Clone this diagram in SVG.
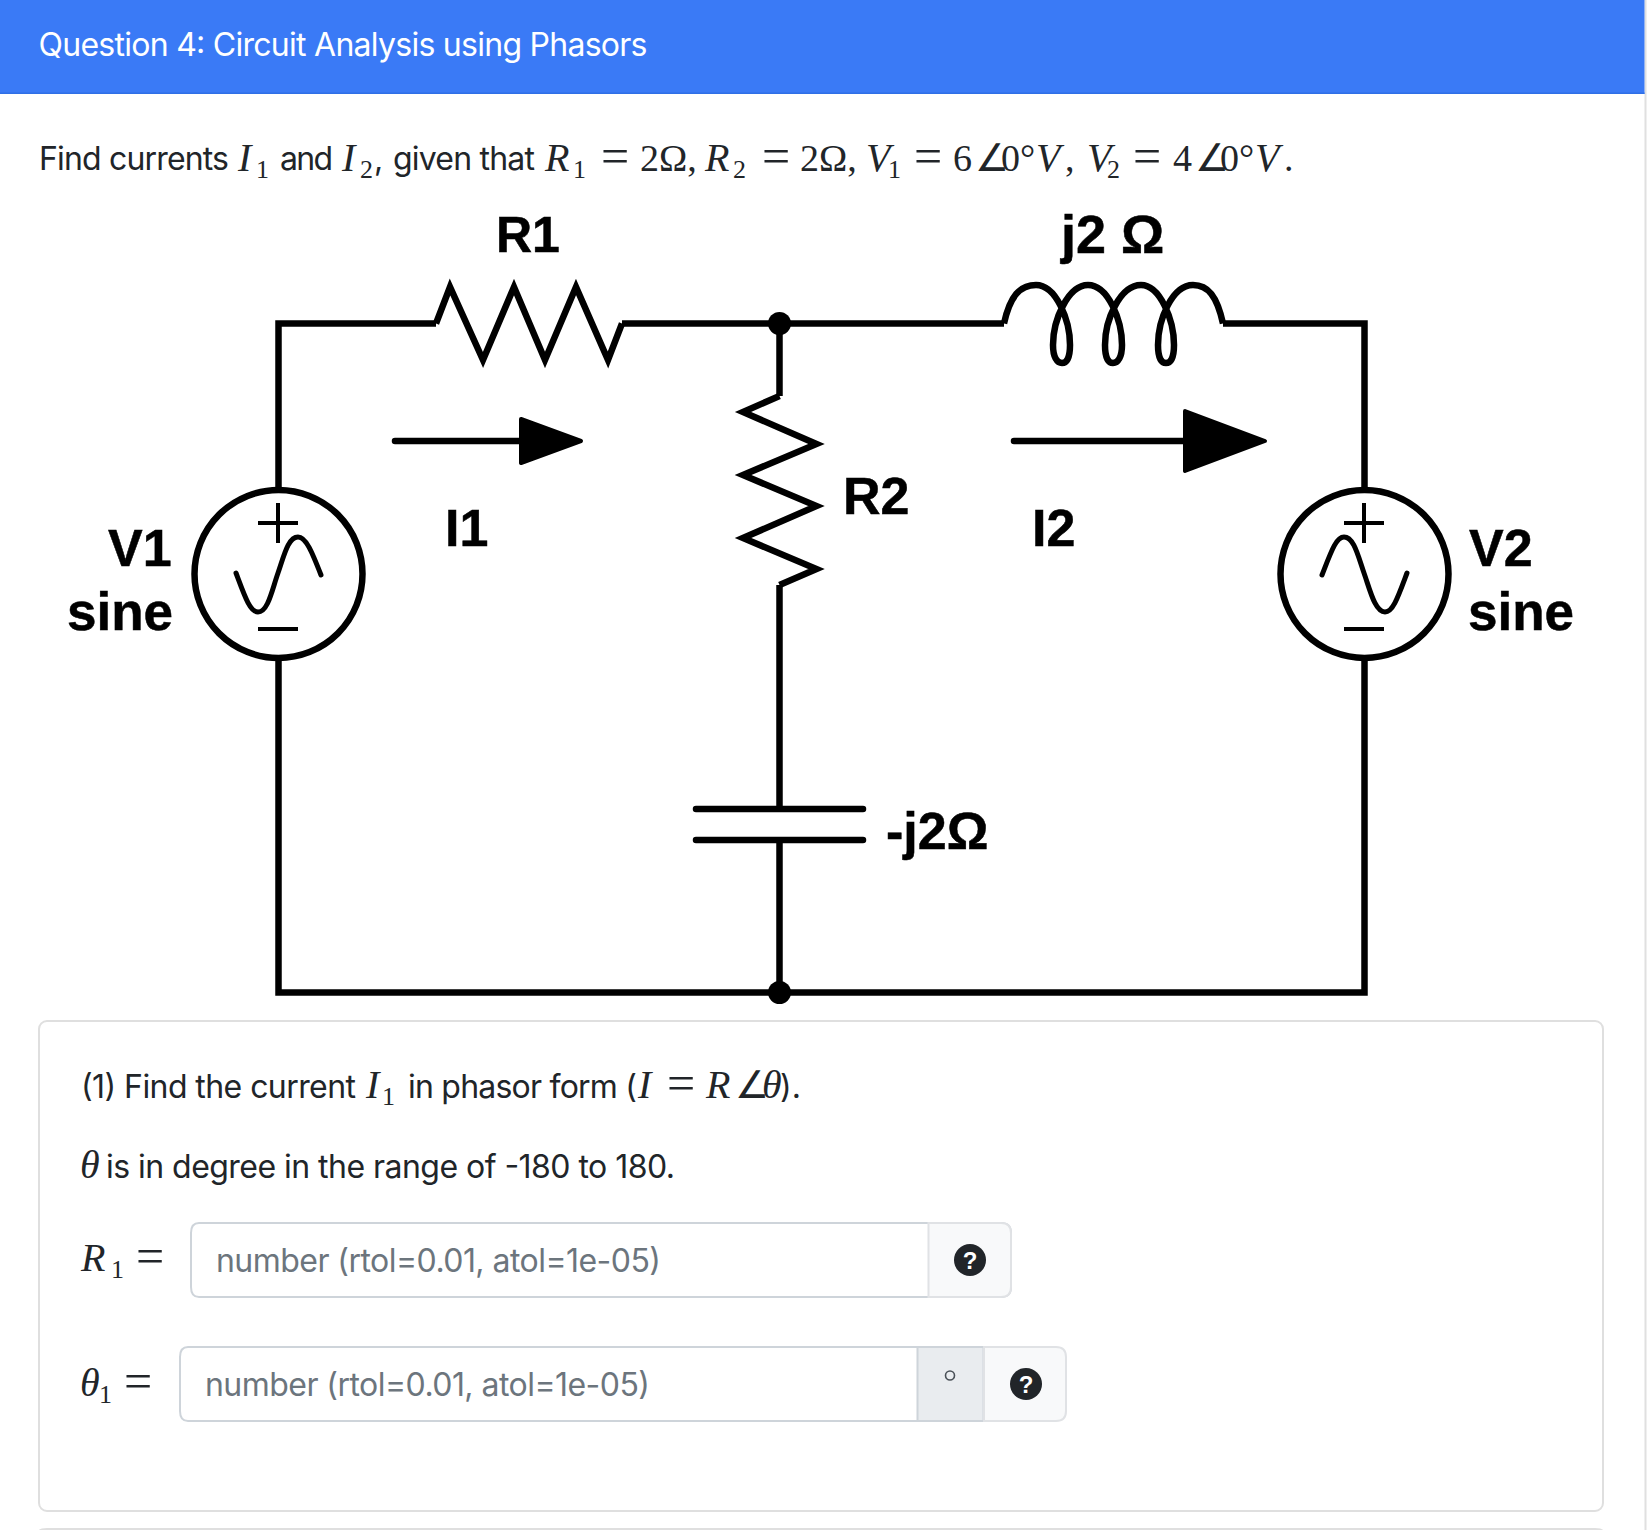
<svg xmlns="http://www.w3.org/2000/svg" width="1650" height="1530" viewBox="0 0 1650 1530">
<style>
.ui{font-family:Inter,"Noto Sans","Liberation Sans",sans-serif;fill:#212529;font-size:32px}
.ph{font-family:Inter,"Noto Sans","Liberation Sans",sans-serif;fill:#6c757d;font-size:32px}
.m{font-family:"Liberation Serif",serif;fill:#212529;font-size:38px}
.eq{font-family:"Liberation Serif",serif;fill:#212529;font-size:50px}
.ang{font-size:38px}
.mi{font-family:"Liberation Serif",serif;font-style:italic;fill:#212529;font-size:40px}
.sub{font-family:"Liberation Serif",serif;fill:#212529;font-size:26px}
.lab{font-family:"Liberation Sans",Arial,sans-serif;font-weight:700;font-size:52px;fill:#000;stroke:#000;stroke-width:.5}
.w{fill:none;stroke:#000;stroke-width:6.5;stroke-linejoin:miter}
.t{fill:none;stroke:#000;stroke-width:5;stroke-linecap:round;stroke-linejoin:round}
.box{fill:#fff;stroke:#ced4da;stroke-width:2}
.btn{fill:#f8f9fa;stroke:#e0e2e5;stroke-width:2}
.q{font-family:"Liberation Sans",sans-serif;font-weight:700;font-size:24px;fill:#fff;text-anchor:middle}
</style>
<rect width="1650" height="1530" fill="#fff"/>
<rect x="1644.5" y="0" width="2" height="1530" fill="#e0e0e0"/>
<g id="header">
<rect x="0" y="0" width="1644.5" height="94" fill="#3a7af6"/>
<rect x="0" y="92.5" width="1644.5" height="1.5" fill="#2f6fe6"/>
<text x="38.5" y="56" class="ui" style="fill:#fff" textLength="609">Question 4: Circuit Analysis using Phasors</text>
</g>
<g id="statement">
<text x="39" y="170" class="ui" textLength="190">Find currents</text>
<text x="238" y="171" class="mi">I</text><text x="256" y="178" class="sub">1</text>
<text x="280" y="170" class="ui" textLength="53">and</text>
<text x="342" y="171" class="mi">I</text><text x="360" y="178" class="sub">2</text>
<text x="374" y="170" class="ui">,</text>
<text x="393" y="170" class="ui" textLength="142">given that</text>
<text x="545" y="171" class="mi">R</text><text x="573" y="178" class="sub">1</text>
<text x="601" y="173" class="eq">=</text>
<text x="640" y="171" class="m">2Ω,</text>
<text x="705" y="171" class="mi">R</text><text x="733" y="178" class="sub">2</text>
<text x="762" y="173" class="eq">=</text>
<text x="800" y="171" class="m">2Ω,</text>
<text x="866" y="171" class="mi">V</text><text x="888" y="178" class="sub">1</text>
<text x="914" y="173" class="eq">=</text>
<text y="171" class="m"><tspan x="953">6</tspan><tspan x="975" class="ang">∠</tspan><tspan x="1001">0</tspan><tspan x="1020">°</tspan></text>
<text x="1036" y="171" class="mi">V</text><text x="1065" y="171" class="m">,</text>
<text x="1087" y="171" class="mi">V</text><text x="1107" y="178" class="sub">2</text>
<text x="1133" y="173" class="eq">=</text>
<text y="171" class="m"><tspan x="1173">4</tspan><tspan x="1195" class="ang">∠</tspan><tspan x="1220">0</tspan><tspan x="1239">°</tspan></text>
<text x="1255" y="171" class="mi">V</text><text x="1284" y="171" class="m">.</text>
</g>
<g id="connectors">
<path class="w" d="M436 323.5H278.5V489M278.5 658V992.5H1364.5V658M1364.5 489V323.5H1223M1004 323.5H622M779.5 323.5V396M779.5 585V809M779.5 840V992.5"/>
<path class="w" d="M395 441H530" style="stroke-linecap:round"/>
<path class="w" d="M1014 441H1195" style="stroke-linecap:round"/>
<path d="M521 419L581 441L521 463Z" fill="#000" stroke="#000" stroke-width="4" stroke-linejoin="round"/>
<path d="M1185 411L1265 441L1185 471Z" fill="#000" stroke="#000" stroke-width="4" stroke-linejoin="round"/>
</g>
<g id="R1">
<path class="w" d="M436 323.5L450 287L483 360L514 287L545 360L576 287L608 360L622 323.5"/>
<text x="496" y="252" class="lab" style="font-size:50px">R1</text>
</g>
<g id="L1">
<path class="w" d="M1004 323.5C1010 296 1020 285 1036 285C1056 285 1070 320 1070 345C1070 357 1067 363 1062 363C1057 363 1053 357 1053 345C1053 320 1068 285 1088 285C1108 285 1122 320 1122 345C1122 357 1118 363 1113 363C1108 363 1105 357 1105 345C1105 320 1120 285 1141 285C1160 285 1174 320 1174 345C1174 357 1171 363 1166 363C1161 363 1158 357 1158 345C1158 320 1172 285 1193 285C1208 285 1217 296 1223 323.5"/>
<text x="1061" y="253" class="lab" style="font-size:54px">j2 Ω</text>
</g>
<g id="R2">
<path class="w" d="M779.5 396L743 412L816.5 444L743 475L816.5 506L743 538L816.5 569L779.5 585"/>
<text x="843" y="514" class="lab">R2</text>
</g>
<g id="C1">
<path class="w" style="stroke-linecap:round" d="M696 809H863M696 840H863"/>
<text x="886" y="849" class="lab">-j2Ω</text>
</g>
<g id="V1">
<circle cx="278.5" cy="574" r="84" class="w"/>
<path d="M258 523H298M278 503V543M258 629H298" fill="none" stroke="#000" stroke-width="4"/>
<path class="t" d="M236 573C245 597 250 612 258 612C268 612 272 590 278 573C284 556 288 537 298 537C306 537 312 552 321 575"/>
<text x="108" y="566" class="lab">V1</text>
<text x="67" y="630" class="lab" style="font-size:53px">sine</text>
</g>
<g id="V2">
<circle cx="1364.5" cy="574" r="84" class="w"/>
<path d="M1344 523H1384M1364 503V543M1344 629H1384" fill="none" stroke="#000" stroke-width="4"/>
<path class="t" d="M1322 575C1331 552 1336 537 1344 537C1354 537 1358 556 1364 573C1370 590 1375 612 1385 612C1393 612 1398 597 1407 573"/>
<text x="1469" y="566" class="lab">V2</text>
<text x="1468" y="630" class="lab" style="font-size:53px">sine</text>
</g>
<g id="I1"><text x="445" y="546" class="lab">I1</text></g>
<g id="I2"><text x="1032" y="546" class="lab">I2</text></g>
<g id="junctions">
<circle cx="779.5" cy="323.5" r="11.5" fill="#000"/>
<circle cx="779.5" cy="992.5" r="11.5" fill="#000"/>
</g>
<g id="card">
<rect x="39" y="1021" width="1564" height="490" rx="8" fill="none" stroke="#dfdfdf" stroke-width="2"/>
<path d="M39 1532Q39 1529 47 1529H1595Q1603 1529 1603 1532" fill="none" stroke="#dfdfdf" stroke-width="2"/>
<text x="81" y="1098" class="ui" textLength="275">(1) Find the current</text>
<text x="366" y="1098" class="mi">I</text><text x="382" y="1105" class="sub">1</text>
<text x="408" y="1098" class="ui" textLength="229">in phasor form (</text>
<text x="638" y="1098" class="mi">I</text>
<text x="667" y="1100" class="eq">=</text>
<text y="1098" class="m"><tspan x="706" class="mi">R</tspan><tspan x="735" class="ang">∠</tspan><tspan x="762" class="mi">θ</tspan></text>
<text x="780" y="1098" class="ui" textLength="21">).</text>
<text x="80" y="1178" class="mi">θ</text>
<text x="106" y="1178" class="ui" textLength="569">is in degree in the range of -180 to 180.</text>
</g>
<g id="r1-input">
<text x="81" y="1271" class="mi">R</text><text x="111" y="1278" class="sub">1</text>
<text x="136" y="1273" class="eq">=</text>
<path class="box" d="M199 1223H1001Q1011 1223 1011 1233V1287Q1011 1297 1001 1297H199Q191 1297 191 1287V1233Q191 1223 199 1223Z"/>
<path class="btn" d="M928.5 1223H1001Q1011 1223 1011 1233V1287Q1011 1297 1001 1297H928.5Z"/>
<text x="216" y="1272" class="ph" textLength="445">number (rtol=0.01, atol=1e-05)</text>
<circle cx="970" cy="1260" r="16" fill="#212529"/>
<text x="970" y="1269" class="q">?</text>
</g>
<g id="theta-input">
<text x="80" y="1396" class="mi">θ</text><text x="99" y="1403" class="sub">1</text>
<text x="124" y="1398" class="eq">=</text>
<path class="box" d="M188 1347H918V1421H188Q180 1421 180 1411V1357Q180 1347 188 1347Z"/>
<rect x="917.5" y="1347" width="66" height="74" fill="#e9ecef" stroke="#ced4da" stroke-width="2"/>
<path class="btn" d="M984 1347H1056Q1066 1347 1066 1357V1411Q1066 1421 1056 1421H984Z"/>
<text x="205" y="1396" class="ph" textLength="445">number (rtol=0.01, atol=1e-05)</text>
<circle cx="950" cy="1375.5" r="4.5" fill="none" stroke="#495057" stroke-width="1.6"/>
<circle cx="1026" cy="1384" r="16" fill="#212529"/>
<text x="1026" y="1393" class="q">?</text>
</g>
</svg>
